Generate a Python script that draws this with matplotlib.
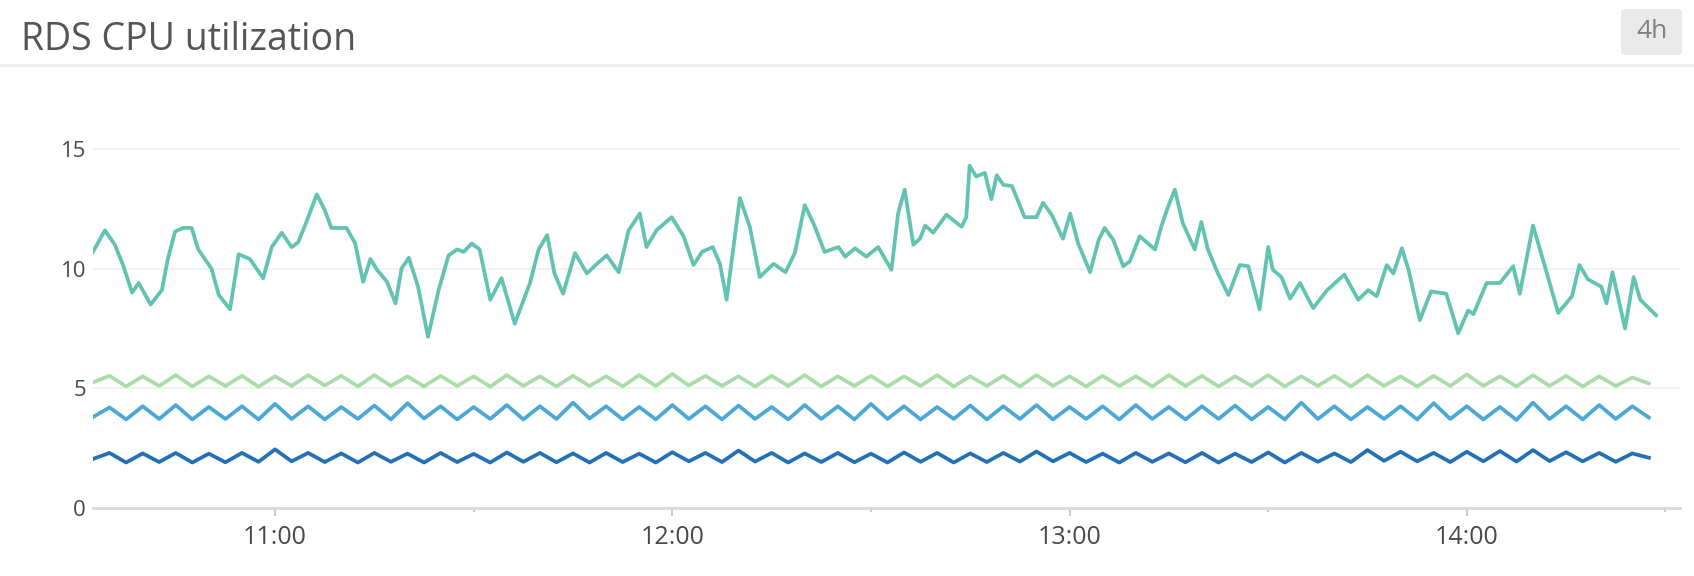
import matplotlib
matplotlib.use('Agg')
import matplotlib.pyplot as plt
import numpy as np
from matplotlib.lines import Line2D
from matplotlib.patches import FancyBboxPatch

plt.rcParams['font.family'] = ['Open Sans', 'DejaVu Sans']

# main series: minutes from 11:00 and CPU %
main_t = [-27.5, -25.7, -24.2, -22.9, -21.6, -20.6, -18.8, -17.1, -16.2, -15.1,
          -13.9, -12.6, -11.6, -10.6, -9.6, -8.5, -6.8, -5.5, -3.8, -1.8,
          -0.5, 1.0, 2.5, 3.5, 4.8, 6.3, 7.5, 8.5, 10.8, 12.1,
          13.3, 14.4, 15.4, 16.9, 18.2, 19.1, 20.2, 21.6, 23.1, 24.7,
          26.2, 27.5, 28.5, 29.7, 30.9, 32.5, 34.2, 36.2, 38.5, 39.8,
          41.1, 42.2, 43.5, 45.3, 47.1, 48.6, 50.1, 51.9, 53.4, 55.1,
          56.1, 57.6, 59.9, 61.7, 63.2, 64.5, 66.1, 67.2, 68.2, 70.2,
          71.7, 73.2, 75.3, 77.1, 78.5, 80.0, 81.3, 83.0, 85.1, 86.1,
          87.6, 89.3, 91.1, 93.1, 94.1, 95.1, 96.4, 97.4, 98.2, 99.4,
          101.4, 103.7, 104.4, 104.9, 105.9, 107.2, 108.2, 109.0, 110.0, 111.3,
          113.2, 115.0, 116.0, 117.3, 119.0, 120.1, 121.3, 123.1, 124.4, 125.3,
          126.6, 128.1, 129.1, 130.6, 132.9, 133.9, 134.9, 135.9, 137.1, 138.9,
          139.9, 140.9, 142.4, 144.0, 145.7, 147.0, 148.7, 150.0, 150.7, 152.0,
          153.3, 154.8, 156.8, 158.9, 161.5, 163.6, 165.1, 166.4, 167.9, 168.9,
          170.2, 171.2, 172.9, 174.6, 176.9, 178.7, 180.2, 181.0, 183.0, 185.0,
          187.0, 188.0, 190.0, 192.1, 193.8, 195.9, 197.0, 198.3, 200.3, 201.1,
          202.0, 203.9, 205.2, 206.2, 208.6]
main_v = [10.7, 11.6, 11.0, 10.1, 9.0, 9.4, 8.5, 9.1, 10.4, 11.55,
          11.7, 11.7, 10.8, 10.4, 10.0, 8.9, 8.3, 10.6, 10.4, 9.6,
          10.9, 11.5, 10.9, 11.1, 12.0, 13.1, 12.45, 11.7, 11.7, 11.05,
          9.45, 10.4, 9.95, 9.45, 8.55, 10.0, 10.45, 9.25, 7.15, 9.1,
          10.55, 10.8, 10.7, 11.05, 10.8, 8.7, 9.6, 7.7, 9.4, 10.8,
          11.4, 9.8, 8.95, 10.65, 9.8, 10.2, 10.55, 9.85, 11.6, 12.3,
          10.9, 11.6, 12.15, 11.35, 10.15, 10.7, 10.9, 10.2, 8.7, 12.95,
          11.75, 9.65, 10.2, 9.85, 10.65, 12.65, 11.9, 10.7, 10.9, 10.5,
          10.85, 10.5, 10.9, 9.95, 12.3, 13.3, 11.0, 11.25, 11.8, 11.5,
          12.25, 11.75, 12.15, 14.3, 13.85, 14.0, 12.9, 13.9, 13.5, 13.45,
          12.15, 12.15, 12.75, 12.25, 11.25, 12.3, 11.05, 9.85, 11.2, 11.7,
          11.2, 10.1, 10.3, 11.35, 10.8, 11.8, 12.6, 13.3, 11.9, 10.8,
          11.95, 10.8, 9.8, 8.9, 10.15, 10.1, 8.3, 10.9, 9.95, 9.65,
          8.75, 9.4, 8.35, 9.1, 9.75, 8.7, 9.1, 8.85, 10.15, 9.8,
          10.85, 9.95, 7.85, 9.05, 8.95, 7.3, 8.25, 8.1, 9.4, 9.4,
          10.1, 8.95, 11.8, 9.8, 8.15, 8.85, 10.15, 9.55, 9.25, 8.55,
          9.85, 7.5, 9.65, 8.7, 8.05]

# the three flat series, sampled every 2.5 min from 10:32:30
green_v = [5.25, 5.52, 5.08, 5.5, 5.1, 5.55, 5.08, 5.5, 5.1, 5.52,
           5.07, 5.5, 5.1, 5.55, 5.12, 5.52, 5.08, 5.55, 5.1, 5.5,
           5.08, 5.52, 5.1, 5.5, 5.07, 5.55, 5.1, 5.5, 5.08, 5.52,
           5.1, 5.5, 5.08, 5.55, 5.1, 5.6, 5.12, 5.52, 5.1, 5.5,
           5.08, 5.52, 5.1, 5.55, 5.08, 5.5, 5.1, 5.52, 5.08, 5.5,
           5.1, 5.55, 5.08, 5.5, 5.1, 5.52, 5.08, 5.55, 5.1, 5.5,
           5.08, 5.52, 5.1, 5.5, 5.08, 5.55, 5.1, 5.52, 5.08, 5.5,
           5.1, 5.55, 5.08, 5.5, 5.1, 5.52, 5.08, 5.55, 5.1, 5.5,
           5.08, 5.52, 5.1, 5.58, 5.1, 5.5, 5.08, 5.55, 5.1, 5.52,
           5.08, 5.5, 5.1, 5.45, 5.2]
lblue_v = [3.8, 4.2, 3.7, 4.25, 3.72, 4.3, 3.7, 4.22, 3.72, 4.25,
           3.7, 4.35, 3.72, 4.25, 3.7, 4.22, 3.72, 4.28, 3.7, 4.38,
           3.74, 4.25, 3.7, 4.22, 3.72, 4.3, 3.7, 4.25, 3.72, 4.4,
           3.74, 4.25, 3.7, 4.22, 3.7, 4.3, 3.72, 4.25, 3.7, 4.28,
           3.72, 4.22, 3.7, 4.3, 3.72, 4.25, 3.7, 4.35, 3.72, 4.25,
           3.7, 4.22, 3.72, 4.28, 3.7, 4.25, 3.72, 4.3, 3.7, 4.22,
           3.72, 4.25, 3.7, 4.3, 3.72, 4.22, 3.7, 4.25, 3.72, 4.28,
           3.7, 4.22, 3.7, 4.4, 3.72, 4.25, 3.7, 4.22, 3.72, 4.25,
           3.7, 4.38, 3.72, 4.25, 3.7, 4.22, 3.68, 4.4, 3.72, 4.25,
           3.7, 4.3, 3.72, 4.25, 3.78]
dblue_v = [2.05, 2.3, 1.9, 2.28, 1.92, 2.3, 1.9, 2.27, 1.91, 2.3,
           1.93, 2.45, 1.95, 2.3, 1.92, 2.28, 1.9, 2.3, 1.93, 2.27,
           1.9, 2.3, 1.92, 2.26, 1.9, 2.32, 1.93, 2.3, 1.91, 2.28,
           1.9, 2.3, 1.92, 2.27, 1.9, 2.33, 1.95, 2.3, 1.92, 2.4,
           1.94, 2.3, 1.9, 2.28, 1.92, 2.3, 1.91, 2.27, 1.9, 2.32,
           1.93, 2.3, 1.9, 2.28, 1.92, 2.3, 1.94, 2.36, 1.95, 2.3,
           1.92, 2.27, 1.9, 2.3, 1.93, 2.28, 1.91, 2.3, 1.9, 2.27,
           1.92, 2.32, 1.9, 2.3, 1.93, 2.28, 1.92, 2.42, 1.97, 2.35,
           1.95, 2.3, 1.92, 2.35, 1.95, 2.38, 1.94, 2.42, 1.96, 2.33,
           1.95, 2.3, 1.93, 2.28, 2.1]

x_ticks = [0, 60, 120, 180]
x_labels = ['11:00', '12:00', '13:00', '14:00']
y_ticks = [0, 5, 10, 15]

W, H = 1694, 576
fig = plt.figure(figsize=(W / 100, H / 100), dpi=100)
fig.patch.set_facecolor('white')

# header
fig.text(21 / W, 1 - 50 / H, 'RDS CPU utilization', fontsize=27,
         color='#555555', va='baseline', ha='left')
fig.add_artist(Line2D([0, 1], [1 - 65 / H] * 2, color='#ededed', lw=2))
fig.add_artist(FancyBboxPatch((1621 / W, 1 - 55 / H), 61 / W, 46 / H,
                              boxstyle='round,pad=0,rounding_size=0.004',
                              transform=fig.transFigure, fc='#eaeaea', ec='none'))
fig.text(1651.5 / W, 1 - 32 / H, '4h', fontsize=19, color='#808080',
         ha='center', va='center')

ax = fig.add_axes([93 / W, 68 / H, 1587 / W, 383 / H])
ax.set_xlim(-27.5, 212.2)
ax.set_ylim(0, 16)

for y in y_ticks[1:]:
    ax.axhline(y, color='#f2f2f2', lw=1.5, zorder=0)

lw = 2.7
ax.plot(-27.5 + 2.5 * np.arange(len(green_v)), green_v, color='#aadcaa', lw=lw,
        solid_joinstyle='round')
ax.plot(-27.5 + 2.5 * np.arange(len(lblue_v)), lblue_v, color='#4ba8d6', lw=lw,
        solid_joinstyle='round')
ax.plot(-27.5 + 2.5 * np.arange(len(dblue_v)), dblue_v, color='#2270b6', lw=lw,
        solid_joinstyle='round')
ax.plot(main_t, main_v, color='#62c3b3', lw=lw, solid_joinstyle='round')

for s in ['top', 'right', 'left']:
    ax.spines[s].set_visible(False)
ax.spines['bottom'].set_color('#d9d9d9')
ax.spines['bottom'].set_linewidth(2)

ax.set_yticks(y_ticks)
ax.set_yticklabels([str(v) for v in y_ticks])
ax.tick_params(axis='y', length=0, pad=5, labelsize=16, labelcolor='#4a4a4a')
ax.set_xticks(x_ticks)
ax.set_xticklabels(x_labels)
ax.set_xticks([30, 90, 150, 210], minor=True)
ax.tick_params(axis='x', which='major', length=6, width=1.5, color='#cccccc',
               pad=6, labelsize=18, labelcolor='#4a4a4a')
ax.tick_params(axis='x', which='minor', length=3, width=1.5, color='#cccccc')

fig.savefig('out.png', dpi=100)
